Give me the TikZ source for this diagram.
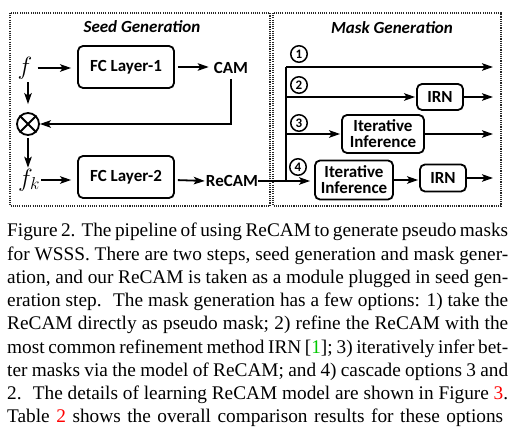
\documentclass[tikz,border=0pt]{standalone}
\usepackage{fontspec}
\setmainfont{Liberation Serif}
\newfontfamily\carl{Carlito}
\usetikzlibrary{arrows.meta}
\definecolor{citegreen}{RGB}{0,200,0}
\begin{document}
\begin{tikzpicture}[x=1pt,y=-1pt,
  lw/.style={line width=1.8pt},
  arr/.style={lw,-{Stealth[length=11pt,width=7.5pt,inset=2.5pt]}},
  blk/.style={draw,lw,rounded corners=5pt,inner sep=0pt,align=center,
    font=\carl\bfseries\fontsize{17}{17}\selectfont},
  lbl/.style={inner sep=0pt,font=\carl\bfseries\fontsize{17}{17}\selectfont},
  mth/.style={inner sep=0pt,font=\fontsize{24}{24}\selectfont},
  ttl/.style={inner sep=0pt,font=\carl\bfseries\itshape\fontsize{17}{17}\selectfont},
  numc/.style={circle,draw,line width=1.5pt,inner sep=0pt,minimum size=16.5pt,
    font=\carl\bfseries\fontsize{13}{13}\selectfont},
  dotbox/.style={line width=1.1pt,black!85,dash pattern=on 1.1pt off 1.1pt},
  capline/.style={anchor=base west,inner sep=0pt,font=\fontsize{19.3}{23}\selectfont}
]
\useasboundingbox (0,0) rectangle (525,435);

% dotted frames
\draw[dotbox] (10,13) rectangle (270,206);
\draw[dotbox] (273,13) rectangle (501,206);

% titles
\node[ttl] (t1) at (142,27) {Seed Generation};
\node[ttl] (t2) at (392,28) {Mask Generation};

% seed generation
\node[mth] (f) at (25,68) {$f$};
\node[blk,minimum width=96pt,minimum height=42pt] (fc1) at (126,67) {FC Layer-1};
\node[lbl] (cam) at (231,68) {CAM};
\node[circle,draw,lw,minimum size=22pt,inner sep=0pt] (ot) at (28,124) {};
\draw[lw] (ot.north west) -- (ot.south east) (ot.north east) -- (ot.south west);
\node[mth] (fk) at (29,180) {$f_k$};
\node[blk,minimum width=96pt,minimum height=42pt] (fc2) at (126,177) {FC Layer-2};
\node[lbl] (recam) at (232,181) {ReCAM};

\draw[arr,shorten <=5pt,shorten >=6pt] (f.east) -- (f.east -| fc1.west);
\draw[arr,shorten <=3pt,shorten >=5pt] (fc1.east) -- (fc1.east -| cam.west);
\draw[arr,shorten <=5pt] (cam.south) |- (ot.east);
\draw[arr,shorten <=3pt,shorten >=8pt] (f.south -| ot.north) -- (ot.north);
\draw[arr,shorten <=2pt,shorten >=1pt] (ot.south) -- (fk.north -| ot.south);
\draw[arr,shorten <=1pt,shorten >=6pt] (fk.east) -- (fk.east -| fc2.west);
\draw[arr,shorten <=3pt,shorten >=1pt] (fk.east -| fc2.east) -- (recam.west);

% mask generation
\coordinate (tt) at (286,67);
\coordinate (o1) at (493,67);
\node[blk,minimum width=46pt,minimum height=26pt] (irn2) at (440,97) {IRN};
\node[blk,minimum width=82pt,minimum height=38pt] (it3) at (383,134) {Iterative\\[-1pt]Inference};
\node[blk,minimum width=78pt,minimum height=39pt] (it4) at (354,180) {Iterative\\[-1pt]Inference};
\node[blk,minimum width=46pt,minimum height=27pt] (irn4) at (443,178) {IRN};
\coordinate (tb) at (tt |- recam.east);

\draw[arr,shorten >=4pt] (recam.east) -- (recam.east -| it4.west);
\draw[lw] (tb) -- (tt);
\draw[arr] (tt) -- (o1);
\draw[arr,shorten >=1pt] (tt |- irn2.west) -- (irn2.west);
\draw[arr] (irn2.east) -- (irn2.east -| o1);
\draw[arr,shorten >=1pt] (tt |- it3.west) -- (it3.west);
\draw[arr] (it3.east) -- (it3.east -| o1);
\draw[arr,shorten >=1pt] (it4.east) -- (it4.east -| irn4.west);
\draw[arr] (irn4.east) -- (irn4.east -| o1);

\node[numc] (n1) at (299,54) {1};
\node[numc] (n2) at (299,85) {2};
\node[numc] (n3) at (299,123) {3};
\node[numc] (n4) at (298,167) {4};

% caption
\node[capline] (c1) at (7,237) {\makebox[501pt][s]{Figure 2. The pipeline of using ReCAM to generate pseudo masks}};
\node[capline] (c2) at (7,260.25) {\makebox[501pt][s]{for WSSS. There are two steps, seed generation and mask gener-}};
\node[capline] (c3) at (7,283.5) {\makebox[501pt][s]{ation, and our ReCAM is taken as a module plugged in seed gen-}};
\node[capline] (c4) at (7,306.75) {\makebox[501pt][s]{eration step. \ The mask generation has a few options: 1) take the}};
\node[capline] (c5) at (7,330) {\makebox[501pt][s]{ReCAM directly as pseudo mask; 2) refine the ReCAM with the}};
\node[capline] (c6) at (7,353.25) {\makebox[501pt][s]{most common refinement method IRN [\textcolor{citegreen}{1}]; 3) iteratively infer bet-}};
\node[capline] (c7) at (7,376.5) {\makebox[501pt][s]{ter masks via the model of ReCAM; and 4) cascade options 3 and}};
\node[capline] (c8) at (7,399.75) {\makebox[501pt][s]{2. \ The details of learning ReCAM model are shown in Figure \textcolor{red}{3}.}};
\node[capline] (c9) at (7,423) {\makebox[496pt][s]{Table \textcolor{red}{2} shows the overall comparison results for these options}};
\end{tikzpicture}
\end{document}
